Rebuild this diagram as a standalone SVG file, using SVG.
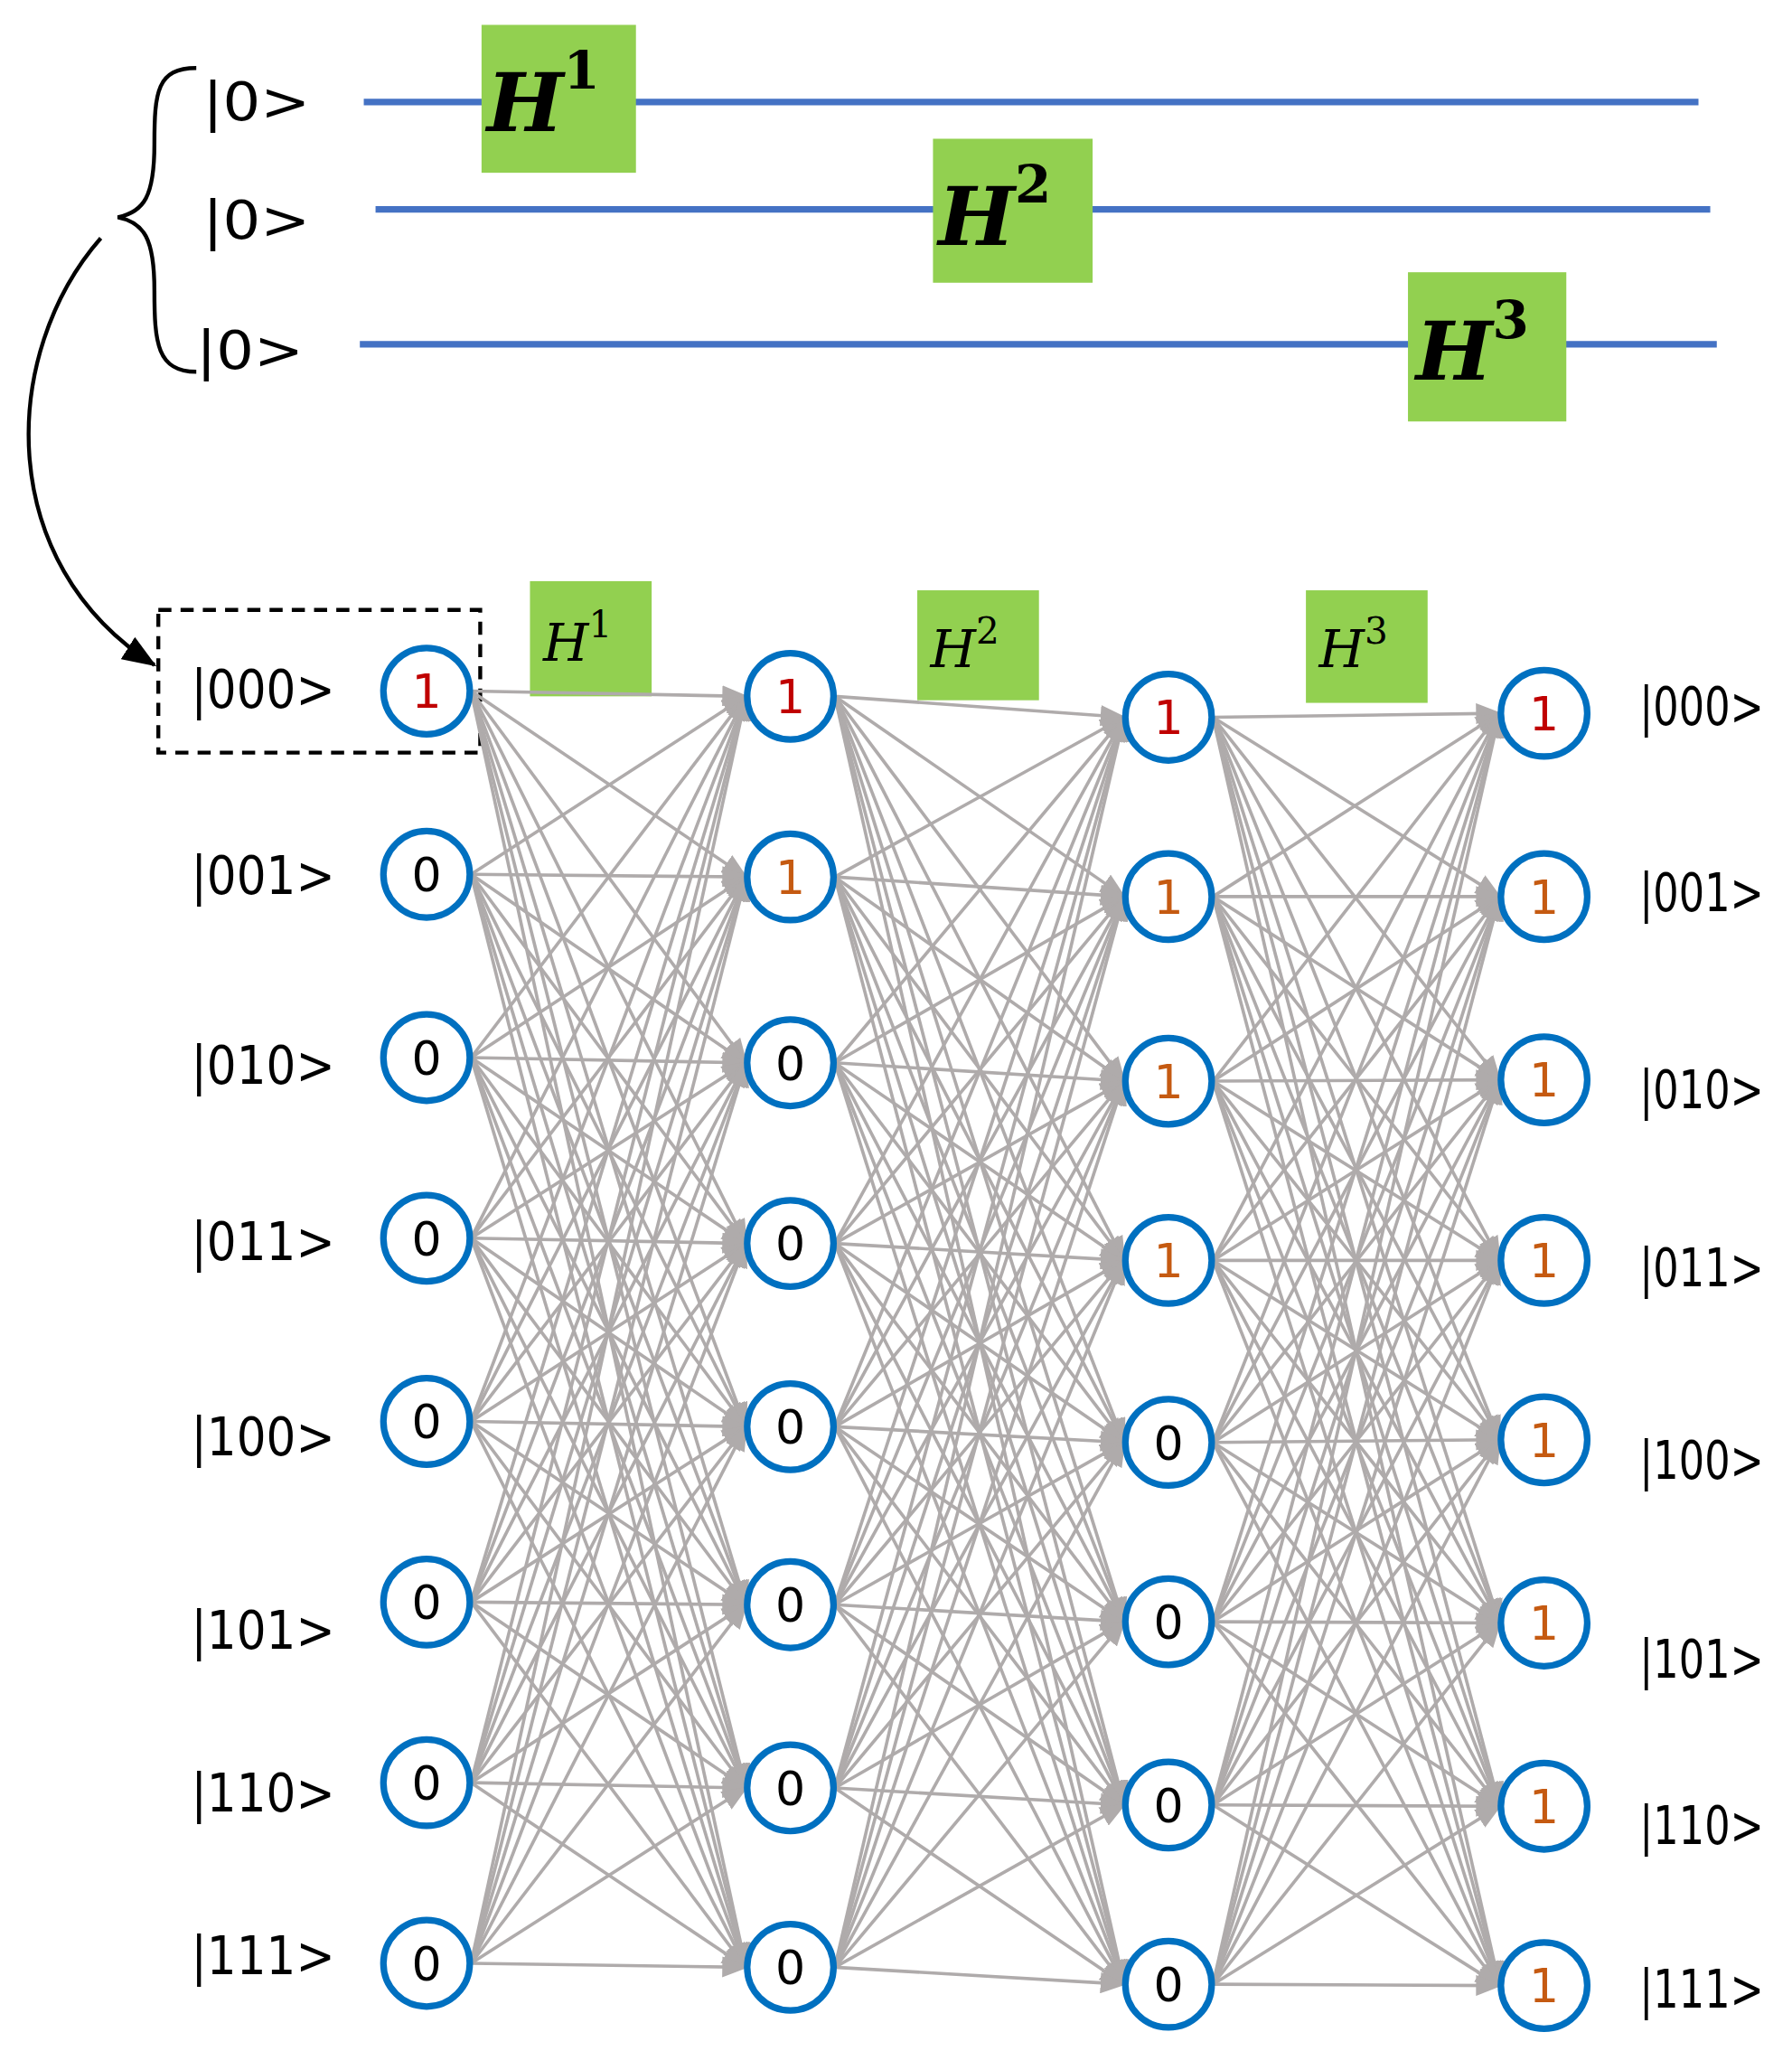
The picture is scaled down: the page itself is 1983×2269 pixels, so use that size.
<svg xmlns="http://www.w3.org/2000/svg" width="1983" height="2269" viewBox="0 0 1983 2269">
<style>
.w{stroke:#4472C4;stroke-width:5;fill:none}
.gb{fill:#92D050}
.hb{font-family:"DejaVu Serif",serif;font-weight:bold;font-style:italic;font-size:62px;fill:#000}
.hs{font-family:"DejaVu Serif",serif;font-style:italic;font-size:40px;fill:#000}
.k{font-family:"DejaVu Sans",sans-serif;font-size:40px;fill:#000}
.n{fill:#fff;stroke:#0070C0;stroke-width:5}
.v{font-family:"DejaVu Sans",sans-serif;font-size:36px;text-anchor:middle}
.r{fill:#C00000}.o{fill:#C55A11}.z{fill:#000}
.e path{stroke:#AFABAB;stroke-width:2.5;fill:none;marker-end:url(#ga)}
.sup{font-style:normal}
</style>
<defs>
<marker id="ga" markerUnits="userSpaceOnUse" markerWidth="20" markerHeight="16" refX="18" refY="8" orient="auto"><path d="M0 0L20 8L0 16z" fill="#AFABAB"/></marker>
<marker id="ba" markerUnits="userSpaceOnUse" markerWidth="26" markerHeight="20" refX="24" refY="10" orient="auto"><path d="M0 0L26 10L0 20z" fill="#000"/></marker>
</defs>
<rect width="1983" height="2269" fill="#fff"/>
<g transform="scale(1.448)">
<g id="circuit">
<path class="w" d="M278 78H1298M287 160H1307M275 263H1312"/>
<text class="k" x="155" y="92" font-size="50" textLength="82" lengthAdjust="spacingAndGlyphs">|0&gt;</text>
<text class="k" x="155" y="182" font-size="50" textLength="82" lengthAdjust="spacingAndGlyphs">|0&gt;</text>
<text class="k" x="150" y="282" font-size="50" textLength="82" lengthAdjust="spacingAndGlyphs">|0&gt;</text>
<path d="M150 52C120 52 118 70 118 110C118 150 110 162 90 166C110 170 118 182 118 222C118 262 120 284 150 284" stroke="#000" stroke-width="3" fill="none"/>
<g id="H1top"><rect class="gb" x="368" y="19" width="118" height="113"/><text class="hb" x="372" y="100">H<tspan class="sup" font-size="40" dy="-32">1</tspan></text></g>
<g id="H2top"><rect class="gb" x="713" y="106" width="122" height="110"/><text class="hb" x="717" y="187">H<tspan class="sup" font-size="40" dy="-32">2</tspan></text></g>
<g id="H3top"><rect class="gb" x="1076" y="208" width="121" height="114"/><text class="hb" x="1082" y="290">H<tspan class="sup" font-size="40" dy="-32">3</tspan></text></g>
</g>
<path d="M77 182C0 270,-5 430,118 508" stroke="#000" stroke-width="3" fill="none" marker-end="url(#ba)"/>
<rect x="121" y="466" width="246" height="109" fill="none" stroke="#000" stroke-width="3" stroke-dasharray="10 7"/>
<g id="Hsmall">
<rect class="gb" x="405" y="444" width="93" height="88"/><text class="hs" x="415" y="505">H<tspan class="sup" font-size="28" dy="-18">1</tspan></text>
<rect class="gb" x="701" y="451" width="93" height="84"/><text class="hs" x="711" y="510">H<tspan class="sup" font-size="28" dy="-18">2</tspan></text>
<rect class="gb" x="998" y="451" width="93" height="86"/><text class="hs" x="1008" y="510">H<tspan class="sup" font-size="28" dy="-18">3</tspan></text>
</g>
<g class="e" id="connectors">
<path d="M360 528L570 532"/><path d="M360 528L570 670"/><path d="M360 528L570 812"/><path d="M360 528L570 950"/><path d="M360 528L570 1090"/><path d="M360 528L570 1226"/><path d="M360 528L570 1366"/><path d="M360 528L570 1503"/>
<path d="M360 668L570 532"/><path d="M360 668L570 670"/><path d="M360 668L570 812"/><path d="M360 668L570 950"/><path d="M360 668L570 1090"/><path d="M360 668L570 1226"/><path d="M360 668L570 1366"/><path d="M360 668L570 1503"/>
<path d="M360 808L570 532"/><path d="M360 808L570 670"/><path d="M360 808L570 812"/><path d="M360 808L570 950"/><path d="M360 808L570 1090"/><path d="M360 808L570 1226"/><path d="M360 808L570 1366"/><path d="M360 808L570 1503"/>
<path d="M360 946L570 532"/><path d="M360 946L570 670"/><path d="M360 946L570 812"/><path d="M360 946L570 950"/><path d="M360 946L570 1090"/><path d="M360 946L570 1226"/><path d="M360 946L570 1366"/><path d="M360 946L570 1503"/>
<path d="M360 1086L570 532"/><path d="M360 1086L570 670"/><path d="M360 1086L570 812"/><path d="M360 1086L570 950"/><path d="M360 1086L570 1090"/><path d="M360 1086L570 1226"/><path d="M360 1086L570 1366"/><path d="M360 1086L570 1503"/>
<path d="M360 1224L570 532"/><path d="M360 1224L570 670"/><path d="M360 1224L570 812"/><path d="M360 1224L570 950"/><path d="M360 1224L570 1090"/><path d="M360 1224L570 1226"/><path d="M360 1224L570 1366"/><path d="M360 1224L570 1503"/>
<path d="M360 1362L570 532"/><path d="M360 1362L570 670"/><path d="M360 1362L570 812"/><path d="M360 1362L570 950"/><path d="M360 1362L570 1090"/><path d="M360 1362L570 1226"/><path d="M360 1362L570 1366"/><path d="M360 1362L570 1503"/>
<path d="M360 1500L570 532"/><path d="M360 1500L570 670"/><path d="M360 1500L570 812"/><path d="M360 1500L570 950"/><path d="M360 1500L570 1090"/><path d="M360 1500L570 1226"/><path d="M360 1500L570 1366"/><path d="M360 1500L570 1503"/>
<path d="M638 532L859 548"/><path d="M638 532L859 685"/><path d="M638 532L859 826"/><path d="M638 532L859 963"/><path d="M638 532L859 1102"/><path d="M638 532L859 1239"/><path d="M638 532L859 1379"/><path d="M638 532L859 1516"/>
<path d="M638 670L859 548"/><path d="M638 670L859 685"/><path d="M638 670L859 826"/><path d="M638 670L859 963"/><path d="M638 670L859 1102"/><path d="M638 670L859 1239"/><path d="M638 670L859 1379"/><path d="M638 670L859 1516"/>
<path d="M638 812L859 548"/><path d="M638 812L859 685"/><path d="M638 812L859 826"/><path d="M638 812L859 963"/><path d="M638 812L859 1102"/><path d="M638 812L859 1239"/><path d="M638 812L859 1379"/><path d="M638 812L859 1516"/>
<path d="M638 950L859 548"/><path d="M638 950L859 685"/><path d="M638 950L859 826"/><path d="M638 950L859 963"/><path d="M638 950L859 1102"/><path d="M638 950L859 1239"/><path d="M638 950L859 1379"/><path d="M638 950L859 1516"/>
<path d="M638 1090L859 548"/><path d="M638 1090L859 685"/><path d="M638 1090L859 826"/><path d="M638 1090L859 963"/><path d="M638 1090L859 1102"/><path d="M638 1090L859 1239"/><path d="M638 1090L859 1379"/><path d="M638 1090L859 1516"/>
<path d="M638 1226L859 548"/><path d="M638 1226L859 685"/><path d="M638 1226L859 826"/><path d="M638 1226L859 963"/><path d="M638 1226L859 1102"/><path d="M638 1226L859 1239"/><path d="M638 1226L859 1379"/><path d="M638 1226L859 1516"/>
<path d="M638 1366L859 548"/><path d="M638 1366L859 685"/><path d="M638 1366L859 826"/><path d="M638 1366L859 963"/><path d="M638 1366L859 1102"/><path d="M638 1366L859 1239"/><path d="M638 1366L859 1379"/><path d="M638 1366L859 1516"/>
<path d="M638 1503L859 548"/><path d="M638 1503L859 685"/><path d="M638 1503L859 826"/><path d="M638 1503L859 963"/><path d="M638 1503L859 1102"/><path d="M638 1503L859 1239"/><path d="M638 1503L859 1379"/><path d="M638 1503L859 1516"/>
<path d="M927 548L1146 545"/><path d="M927 548L1146 685"/><path d="M927 548L1146 825"/><path d="M927 548L1146 963"/><path d="M927 548L1146 1100"/><path d="M927 548L1146 1240"/><path d="M927 548L1146 1380"/><path d="M927 548L1146 1517"/>
<path d="M927 685L1146 545"/><path d="M927 685L1146 685"/><path d="M927 685L1146 825"/><path d="M927 685L1146 963"/><path d="M927 685L1146 1100"/><path d="M927 685L1146 1240"/><path d="M927 685L1146 1380"/><path d="M927 685L1146 1517"/>
<path d="M927 826L1146 545"/><path d="M927 826L1146 685"/><path d="M927 826L1146 825"/><path d="M927 826L1146 963"/><path d="M927 826L1146 1100"/><path d="M927 826L1146 1240"/><path d="M927 826L1146 1380"/><path d="M927 826L1146 1517"/>
<path d="M927 963L1146 545"/><path d="M927 963L1146 685"/><path d="M927 963L1146 825"/><path d="M927 963L1146 963"/><path d="M927 963L1146 1100"/><path d="M927 963L1146 1240"/><path d="M927 963L1146 1380"/><path d="M927 963L1146 1517"/>
<path d="M927 1102L1146 545"/><path d="M927 1102L1146 685"/><path d="M927 1102L1146 825"/><path d="M927 1102L1146 963"/><path d="M927 1102L1146 1100"/><path d="M927 1102L1146 1240"/><path d="M927 1102L1146 1380"/><path d="M927 1102L1146 1517"/>
<path d="M927 1239L1146 545"/><path d="M927 1239L1146 685"/><path d="M927 1239L1146 825"/><path d="M927 1239L1146 963"/><path d="M927 1239L1146 1100"/><path d="M927 1239L1146 1240"/><path d="M927 1239L1146 1380"/><path d="M927 1239L1146 1517"/>
<path d="M927 1379L1146 545"/><path d="M927 1379L1146 685"/><path d="M927 1379L1146 825"/><path d="M927 1379L1146 963"/><path d="M927 1379L1146 1100"/><path d="M927 1379L1146 1240"/><path d="M927 1379L1146 1380"/><path d="M927 1379L1146 1517"/>
<path d="M927 1516L1146 545"/><path d="M927 1516L1146 685"/><path d="M927 1516L1146 825"/><path d="M927 1516L1146 963"/><path d="M927 1516L1146 1100"/><path d="M927 1516L1146 1240"/><path d="M927 1516L1146 1380"/><path d="M927 1516L1146 1517"/>
</g>
<g id="labelsL" class="k">
<text x="146" y="541" textLength="110" lengthAdjust="spacingAndGlyphs">|000&gt;</text><text x="146" y="683" textLength="110" lengthAdjust="spacingAndGlyphs">|001&gt;</text><text x="146" y="828" textLength="110" lengthAdjust="spacingAndGlyphs">|010&gt;</text><text x="146" y="963" textLength="110" lengthAdjust="spacingAndGlyphs">|011&gt;</text><text x="146" y="1112" textLength="110" lengthAdjust="spacingAndGlyphs">|100&gt;</text><text x="146" y="1260" textLength="110" lengthAdjust="spacingAndGlyphs">|101&gt;</text><text x="146" y="1384" textLength="110" lengthAdjust="spacingAndGlyphs">|110&gt;</text><text x="146" y="1508" textLength="110" lengthAdjust="spacingAndGlyphs">|111&gt;</text>
</g>
<g id="labelsR" class="k">
<text x="1253" y="554" textLength="95" lengthAdjust="spacingAndGlyphs">|000&gt;</text><text x="1253" y="696" textLength="95" lengthAdjust="spacingAndGlyphs">|001&gt;</text><text x="1253" y="847" textLength="95" lengthAdjust="spacingAndGlyphs">|010&gt;</text><text x="1253" y="983" textLength="95" lengthAdjust="spacingAndGlyphs">|011&gt;</text><text x="1253" y="1130" textLength="95" lengthAdjust="spacingAndGlyphs">|100&gt;</text><text x="1253" y="1282" textLength="95" lengthAdjust="spacingAndGlyphs">|101&gt;</text><text x="1253" y="1409" textLength="95" lengthAdjust="spacingAndGlyphs">|110&gt;</text><text x="1253" y="1534" textLength="95" lengthAdjust="spacingAndGlyphs">|111&gt;</text>
</g>
<g id="c0_0"><circle class="n" cx="326" cy="528" r="33"/><text class="v r" x="326" y="541">1</text></g>
<g id="c0_1"><circle class="n" cx="326" cy="668" r="33"/><text class="v z" x="326" y="681">0</text></g>
<g id="c0_2"><circle class="n" cx="326" cy="808" r="33"/><text class="v z" x="326" y="821">0</text></g>
<g id="c0_3"><circle class="n" cx="326" cy="946" r="33"/><text class="v z" x="326" y="959">0</text></g>
<g id="c0_4"><circle class="n" cx="326" cy="1086" r="33"/><text class="v z" x="326" y="1099">0</text></g>
<g id="c0_5"><circle class="n" cx="326" cy="1224" r="33"/><text class="v z" x="326" y="1237">0</text></g>
<g id="c0_6"><circle class="n" cx="326" cy="1362" r="33"/><text class="v z" x="326" y="1375">0</text></g>
<g id="c0_7"><circle class="n" cx="326" cy="1500" r="33"/><text class="v z" x="326" y="1513">0</text></g>
<g id="c1_0"><circle class="n" cx="604" cy="532" r="33"/><text class="v r" x="604" y="545">1</text></g>
<g id="c1_1"><circle class="n" cx="604" cy="670" r="33"/><text class="v o" x="604" y="683">1</text></g>
<g id="c1_2"><circle class="n" cx="604" cy="812" r="33"/><text class="v z" x="604" y="825">0</text></g>
<g id="c1_3"><circle class="n" cx="604" cy="950" r="33"/><text class="v z" x="604" y="963">0</text></g>
<g id="c1_4"><circle class="n" cx="604" cy="1090" r="33"/><text class="v z" x="604" y="1103">0</text></g>
<g id="c1_5"><circle class="n" cx="604" cy="1226" r="33"/><text class="v z" x="604" y="1239">0</text></g>
<g id="c1_6"><circle class="n" cx="604" cy="1366" r="33"/><text class="v z" x="604" y="1379">0</text></g>
<g id="c1_7"><circle class="n" cx="604" cy="1503" r="33"/><text class="v z" x="604" y="1516">0</text></g>
<g id="c2_0"><circle class="n" cx="893" cy="548" r="33"/><text class="v r" x="893" y="561">1</text></g>
<g id="c2_1"><circle class="n" cx="893" cy="685" r="33"/><text class="v o" x="893" y="698">1</text></g>
<g id="c2_2"><circle class="n" cx="893" cy="826" r="33"/><text class="v o" x="893" y="839">1</text></g>
<g id="c2_3"><circle class="n" cx="893" cy="963" r="33"/><text class="v o" x="893" y="976">1</text></g>
<g id="c2_4"><circle class="n" cx="893" cy="1102" r="33"/><text class="v z" x="893" y="1115">0</text></g>
<g id="c2_5"><circle class="n" cx="893" cy="1239" r="33"/><text class="v z" x="893" y="1252">0</text></g>
<g id="c2_6"><circle class="n" cx="893" cy="1379" r="33"/><text class="v z" x="893" y="1392">0</text></g>
<g id="c2_7"><circle class="n" cx="893" cy="1516" r="33"/><text class="v z" x="893" y="1529">0</text></g>
<g id="c3_0"><circle class="n" cx="1180" cy="545" r="33"/><text class="v r" x="1180" y="558">1</text></g>
<g id="c3_1"><circle class="n" cx="1180" cy="685" r="33"/><text class="v o" x="1180" y="698">1</text></g>
<g id="c3_2"><circle class="n" cx="1180" cy="825" r="33"/><text class="v o" x="1180" y="838">1</text></g>
<g id="c3_3"><circle class="n" cx="1180" cy="963" r="33"/><text class="v o" x="1180" y="976">1</text></g>
<g id="c3_4"><circle class="n" cx="1180" cy="1100" r="33"/><text class="v o" x="1180" y="1113">1</text></g>
<g id="c3_5"><circle class="n" cx="1180" cy="1240" r="33"/><text class="v o" x="1180" y="1253">1</text></g>
<g id="c3_6"><circle class="n" cx="1180" cy="1380" r="33"/><text class="v o" x="1180" y="1393">1</text></g>
<g id="c3_7"><circle class="n" cx="1180" cy="1517" r="33"/><text class="v o" x="1180" y="1530">1</text></g>
</g>
</svg>
